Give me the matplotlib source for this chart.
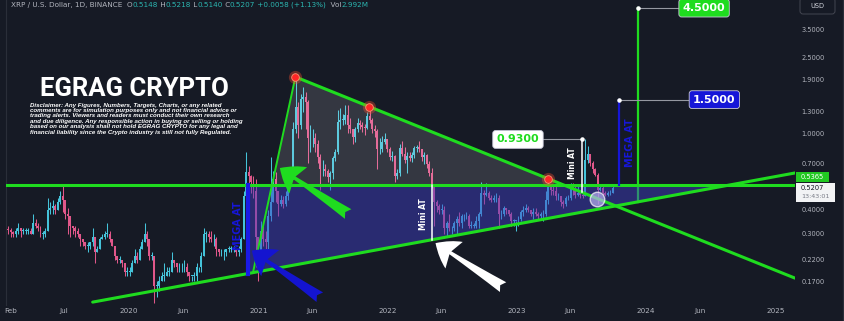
import numpy as np
import pandas as pd
import matplotlib
matplotlib.use("Agg")
import matplotlib.pyplot as plt
import matplotlib.dates as mdates
from matplotlib.patches import Polygon, Rectangle, FancyBboxPatch
from matplotlib.transforms import IdentityTransform
from matplotlib.ticker import NullLocator

# weekly XRP/USD candles (first week starts 2019-01-21)
first_week = "2019-01-21"
first_open = 0.318
closes = [
    # 2019
    0.315, 0.305, 0.30, 0.31, 0.32, 0.31, 0.31, 0.31, 0.31, 0.30,
    0.34, 0.33, 0.32, 0.30, 0.30, 0.31, 0.40, 0.41, 0.42, 0.40,
    0.44, 0.47, 0.45, 0.38, 0.37, 0.33, 0.32, 0.31, 0.30, 0.28,
    0.27, 0.26, 0.26, 0.27, 0.29, 0.24, 0.25, 0.28, 0.29, 0.30,
    0.30, 0.28, 0.26, 0.23, 0.22, 0.22, 0.21, 0.19, 0.19, 0.19,
    # 2020
    0.21, 0.23, 0.22, 0.25, 0.27, 0.30, 0.28, 0.23, 0.23, 0.16,
    0.16, 0.17, 0.18, 0.18, 0.19, 0.19, 0.22, 0.21, 0.20, 0.20,
    0.20, 0.20, 0.19, 0.18, 0.18, 0.18, 0.20, 0.20, 0.23, 0.30,
    0.30, 0.29, 0.28, 0.28, 0.25, 0.24, 0.24, 0.24, 0.25, 0.25,
    0.25, 0.25, 0.24, 0.25, 0.28, 0.47, 0.63, 0.60, 0.56, 0.50,
    0.29, 0.22,
    # 2021
    0.31, 0.28, 0.27, 0.37, 0.44, 0.58, 0.50, 0.43, 0.45, 0.43,
    0.47, 0.54, 0.58, 1.05, 1.38, 1.10, 1.52, 1.55, 1.45, 0.95,
    0.95, 0.95, 0.88, 0.75, 0.65, 0.65, 0.64, 0.59, 0.62, 0.74,
    0.80, 1.15, 1.18, 1.18, 1.25, 1.10, 1.05, 0.96, 1.05, 1.13,
    1.10, 1.08, 1.07, 1.23, 1.17, 1.05, 1.03, 0.83, 0.83, 0.90,
    0.93, 0.83,
    # 2022
    0.75, 0.76, 0.60, 0.62, 0.84, 0.78, 0.73, 0.76, 0.74, 0.77,
    0.84, 0.85, 0.83, 0.75, 0.77, 0.69, 0.62, 0.53, 0.44, 0.42,
    0.40, 0.40, 0.32, 0.34, 0.32, 0.32, 0.34, 0.36, 0.34, 0.37,
    0.37, 0.37, 0.33, 0.33, 0.33, 0.35, 0.38, 0.49, 0.48, 0.49,
    0.46, 0.45, 0.46, 0.46, 0.38, 0.38, 0.41, 0.40, 0.38, 0.35,
    0.35, 0.35,
    # 2023
    0.36, 0.39, 0.40, 0.41, 0.40, 0.38, 0.39, 0.38, 0.37, 0.38,
    0.38, 0.45, 0.54, 0.51, 0.50, 0.47, 0.47, 0.44, 0.43, 0.46,
    0.46, 0.53, 0.52, 0.48, 0.49, 0.48, 0.47, 0.73, 0.78, 0.70,
    0.65, 0.61, 0.51, 0.52, 0.49, 0.48, 0.49, 0.49, 0.52,
]
highs = [
    0.33, 0.32, 0.31, 0.32, 0.34, 0.32, 0.32, 0.32, 0.32, 0.32,
    0.38, 0.36, 0.34, 0.33, 0.31, 0.32, 0.46, 0.44, 0.45, 0.43,
    0.46, 0.50, 0.54, 0.45, 0.41, 0.36, 0.33, 0.33, 0.32, 0.30,
    0.28, 0.27, 0.27, 0.27, 0.32, 0.29, 0.26, 0.29, 0.30, 0.31,
    0.34, 0.31, 0.28, 0.26, 0.23, 0.23, 0.22, 0.21, 0.20, 0.20,
    0.22, 0.25, 0.24, 0.26, 0.28, 0.34, 0.31, 0.28, 0.24, 0.23,
    0.17, 0.18, 0.19, 0.21, 0.20, 0.20, 0.24, 0.22, 0.21, 0.21,
    0.21, 0.22, 0.21, 0.19, 0.18, 0.19, 0.21, 0.20, 0.24, 0.32,
    0.31, 0.31, 0.31, 0.30, 0.29, 0.25, 0.25, 0.25, 0.25, 0.26,
    0.26, 0.26, 0.25, 0.26, 0.29, 0.50, 0.80, 0.68, 0.61, 0.60,
    0.58, 0.29,
    0.35, 0.33, 0.31, 0.40, 0.75, 0.64, 0.63, 0.50, 0.48, 0.47,
    0.50, 0.60, 0.65, 1.15, 1.96, 1.45, 1.60, 1.75, 1.65, 1.50,
    1.10, 1.05, 1.00, 0.92, 0.78, 0.73, 0.69, 0.65, 0.64, 0.76,
    0.83, 1.33, 1.35, 1.26, 1.40, 1.41, 1.20, 1.05, 1.08, 1.20,
    1.18, 1.14, 1.12, 1.30, 1.37, 1.20, 1.10, 1.05, 0.95, 0.97,
    1.00, 0.94,
    0.85, 0.81, 0.77, 0.65, 0.88, 0.91, 0.85, 0.80, 0.80, 0.80,
    0.86, 0.87, 0.91, 0.82, 0.80, 0.78, 0.72, 0.66, 0.54, 0.45,
    0.43, 0.43, 0.42, 0.35, 0.38, 0.33, 0.35, 0.37, 0.39, 0.38,
    0.38, 0.39, 0.38, 0.35, 0.34, 0.37, 0.39, 0.56, 0.51, 0.55,
    0.50, 0.48, 0.48, 0.49, 0.48, 0.40, 0.42, 0.41, 0.40, 0.39,
    0.36, 0.35,
    0.37, 0.40, 0.42, 0.43, 0.42, 0.40, 0.41, 0.41, 0.39, 0.39,
    0.40, 0.50, 0.59, 0.54, 0.54, 0.53, 0.49, 0.47, 0.45, 0.47,
    0.48, 0.55, 0.55, 0.53, 0.53, 0.51, 0.49, 0.93, 0.86, 0.78,
    0.72, 0.66, 0.62, 0.54, 0.54, 0.50, 0.50, 0.51, 0.53,
]
lows = [
    0.30, 0.29, 0.29, 0.29, 0.30, 0.29, 0.30, 0.30, 0.30, 0.30,
    0.30, 0.32, 0.31, 0.29, 0.28, 0.29, 0.31, 0.38, 0.38, 0.38,
    0.40, 0.43, 0.39, 0.36, 0.30, 0.29, 0.30, 0.29, 0.29, 0.26,
    0.26, 0.25, 0.24, 0.25, 0.26, 0.21, 0.24, 0.25, 0.28, 0.28,
    0.29, 0.27, 0.26, 0.22, 0.21, 0.21, 0.20, 0.18, 0.18, 0.18,
    0.19, 0.21, 0.21, 0.22, 0.25, 0.27, 0.26, 0.22, 0.22, 0.13,
    0.14, 0.15, 0.17, 0.17, 0.18, 0.18, 0.19, 0.20, 0.19, 0.19,
    0.19, 0.19, 0.18, 0.17, 0.17, 0.17, 0.17, 0.19, 0.19, 0.23,
    0.27, 0.27, 0.27, 0.26, 0.23, 0.23, 0.23, 0.22, 0.23, 0.24,
    0.24, 0.24, 0.23, 0.23, 0.24, 0.28, 0.45, 0.55, 0.49, 0.46,
    0.20, 0.17,
    0.21, 0.26, 0.25, 0.25, 0.35, 0.44, 0.44, 0.37, 0.42, 0.41,
    0.42, 0.45, 0.53, 0.60, 1.00, 0.95, 1.05, 1.30, 1.05, 0.70,
    0.80, 0.85, 0.80, 0.70, 0.51, 0.60, 0.60, 0.56, 0.51, 0.58,
    0.72, 0.78, 1.05, 1.10, 1.12, 1.00, 1.00, 0.88, 0.90, 1.02,
    1.05, 1.02, 0.98, 1.05, 1.13, 1.00, 0.96, 0.65, 0.78, 0.80,
    0.88, 0.80,
    0.73, 0.72, 0.56, 0.58, 0.60, 0.76, 0.70, 0.62, 0.72, 0.71,
    0.74, 0.80, 0.80, 0.72, 0.69, 0.66, 0.60, 0.52, 0.33, 0.39,
    0.38, 0.38, 0.30, 0.29, 0.31, 0.30, 0.31, 0.30, 0.33, 0.32,
    0.35, 0.36, 0.32, 0.32, 0.32, 0.32, 0.32, 0.37, 0.43, 0.47,
    0.45, 0.44, 0.44, 0.44, 0.32, 0.36, 0.37, 0.38, 0.37, 0.33,
    0.33, 0.31,
    0.33, 0.35, 0.37, 0.39, 0.39, 0.37, 0.36, 0.37, 0.36, 0.36,
    0.35, 0.37, 0.43, 0.48, 0.48, 0.45, 0.45, 0.42, 0.41, 0.42,
    0.45, 0.45, 0.48, 0.46, 0.47, 0.46, 0.46, 0.47, 0.70, 0.68,
    0.62, 0.60, 0.43, 0.50, 0.48, 0.47, 0.47, 0.48, 0.49,
]

price_ticks = [3.5, 2.5, 1.9, 1.3, 1.0, 0.7, 0.4, 0.3, 0.22, 0.17]
time_ticks = ["2019-02-01", "2019-07-01", "2020-01-01", "2020-06-01", "2021-01-01",
              "2021-06-01", "2022-01-01", "2022-06-01", "2023-01-01", "2023-06-01",
              "2024-01-01", "2024-06-01", "2025-01-01"]
time_labels = ["Feb", "Jul", "2020", "Jun", "2021", "Jun", "2022", "Jun", "2023",
               "Jun", "2024", "Jun", "2025"]

# drawing annotations (date, price)
level = 0.5365
last_close = 0.5207
support = [("2019-09-20", 0.132), ("2025-03-01", 0.624)]
resistance = [("2021-04-15", 1.97), ("2025-02-25", 0.176)]
steep_start = "2020-12-16"
peak_days = ["2021-04-15", "2021-11-10", "2023-03-29"]
mega1_day = "2020-12-02"
mini1_day = "2022-05-07"
mini2_day, mini2_target = "2023-07-03", 0.93
mega2_day, mega2_target = "2023-10-16", 1.5
big_day, big_target = "2023-12-09", 4.5
retest_day, retest_price = "2023-08-15", 0.453

bg = "#161a25"
green = "#1fdc1f"
blue = "#1616d8"
grey_txt = "#b2b5be"
teal = "#2bb5b0"
up_col = "#45c3da"
down_col = "#e0578a"

dn = mdates.datestr2num
plt.rcParams["font.family"] = ["DejaVu Sans"]


def log_line(pts, when):
    (d0, v0), (d1, v1) = [(dn(d), v) for d, v in pts]
    t = (when - d0) / (d1 - d0)
    return np.exp(np.log(v0) + t * (np.log(v1) - np.log(v0)))


def cross_level(pts, value):
    (d0, v0), (d1, v1) = [(dn(d), v) for d, v in pts]
    t = (np.log(value) - np.log(v0)) / (np.log(v1) - np.log(v0))
    return d0 + t * (d1 - d0)


fig = plt.figure(figsize=(8.45, 3.21), dpi=100, facecolor=bg)
ax = fig.add_axes([6 / 845, 16 / 321, 789 / 845, 305 / 321])
ax.set_facecolor(bg)
ax.set_yscale("log")
ax.set_ylim(0.1275, 4.96)
ax.set_xlim(dn("2019-01-18"), dn("2025-02-25"))

# candles
weeks = pd.date_range(first_week, periods=len(closes), freq="7D")
x = mdates.date2num(weeks) + 3.5
c = np.array(closes)
o = np.concatenate([[first_open], c[:-1]])
h = np.maximum(np.array(highs), np.maximum(o, c))
lo = np.minimum(np.array(lows), np.minimum(o, c))
cols = np.where(c >= o, up_col, down_col)
ax.vlines(x, lo, h, colors=cols, lw=0.75, zorder=2)
ax.bar(x, np.maximum(np.abs(c - o), 0.002), bottom=np.minimum(o, c), width=5.6,
       color=cols, lw=0, zorder=2)

# lines
peak = (dn(resistance[0][0]), resistance[0][1])
s0 = dn(steep_start)
steep = [(steep_start, log_line(support, s0)), resistance[0]]
xl = ax.get_xlim()
for pts in [support, resistance]:
    xs = [dn(pts[0][0]), dn(pts[1][0])]
    ax.plot(xs, [pts[0][1], pts[1][1]], color=green, lw=2.2, zorder=4,
            solid_capstyle="round")
ax.plot([s0, peak[0]], [steep[0][1], peak[1]], color=green, lw=1.4, zorder=4)
ax.axhline(level, color=green, lw=2.2, zorder=4)

# grey triangle and purple zone
gx1 = cross_level(steep, level)
gx2 = cross_level(resistance, level)
ax.add_patch(Polygon([(gx1, level), peak, (gx2, level)], closed=True,
                     facecolor="white", alpha=0.13, lw=0, zorder=3))
m1 = dn(mega1_day)
px = cross_level(support, level)
ax.add_patch(Polygon([(m1, level), (px, level), (m1, log_line(support, m1))],
                     closed=True, facecolor="#4040c8", alpha=0.47, lw=0, zorder=3))

# vertical measure lines
ax.plot([m1, m1], [log_line(support, m1), level], color="#1a1ae6", lw=3, zorder=4)
d = dn(mini1_day)
ax.plot([d, d], [log_line(support, d), level], color="white", lw=1.1, zorder=4)
d = dn(mini2_day)
ax.plot([d, d], [log_line(resistance, d), mini2_target], color="white", lw=1.1, zorder=4)
d = dn(mega2_day)
ax.plot([d, d], [level, mega2_target], color=blue, lw=1.6, zorder=4)
d = dn(big_day)
ax.plot([d, d], [log_line(support, d), big_target], color=green, lw=1.6, zorder=2.5)

# target labels with connectors
for day, val, box_day, fc, tc in [(mini2_day, mini2_target, "2023-01-04", "white", green),
                                  (mega2_day, mega2_target, "2024-07-12", blue, "white"),
                                  (big_day, big_target, "2024-06-13", green, "white")]:
    ax.plot([dn(box_day), dn(day)], [val, val], color="#9598a1", lw=0.8, zorder=4)
    ax.scatter([dn(day)], [val], s=5, color="white", zorder=6)
    ax.text(dn(box_day), val, f"{val:.4f}", color=tc, fontsize=8, fontweight="bold",
            ha="center", va="center", zorder=7,
            bbox=dict(boxstyle="round,pad=0.35,rounding_size=0.25", fc=fc,
                      ec="#c8c8d8", lw=0.6))

# rotated labels
ax.text(dn("2020-11-04"), 0.329, "MEGA AT", rotation=90, color=blue, fontsize=7,
        fontweight="bold", ha="center", va="center", zorder=5)
ax.text(dn("2023-11-17"), 0.90, "MEGA AT", rotation=90, color=blue, fontsize=7,
        fontweight="bold", ha="center", va="center", zorder=5)
ax.text(dn("2022-04-11"), 0.38, "Mini AT", rotation=90, color="white", fontsize=5.5,
        fontweight="bold", ha="center", va="center", zorder=5)
ax.text(dn("2023-06-08"), 0.70, "Mini AT", rotation=90, color="white", fontsize=5.5,
        fontweight="bold", ha="center", va="center", zorder=5)

# arrows (tail -> tip)
for tail, tip, col in [(("2021-09-11", 0.380), ("2021-03-02", 0.660), green),
                       (("2021-06-23", 0.140), ("2020-12-13", 0.245), "#1414d0"),
                       (("2022-11-23", 0.158), ("2022-05-16", 0.268), "white")]:
    ax.annotate("", xy=(dn(tip[0]), tip[1]), xytext=(dn(tail[0]), tail[1]), zorder=5,
                arrowprops=dict(arrowstyle="fancy,head_length=0.42,head_width=0.6,tail_width=0.22",
                                mutation_scale=38, fc=col, ec=col, lw=0,
                                shrinkA=0, shrinkB=0))

# red touch points and retest circle
pk = np.array([dn(p) for p in peak_days])
pv = [resistance[0][1]] + [log_line(resistance, v) for v in pk[1:]]
ax.scatter(pk, pv, s=90, color="#ff5030", alpha=0.35, lw=0, zorder=6)
ax.scatter(pk, pv, s=30, color="#ff2626", edgecolor="#ff9070", lw=0.6, zorder=6)
ax.scatter([dn(retest_day)], [retest_price], s=110, facecolor="#b8b0f2", alpha=0.7,
           edgecolor="white", lw=1, zorder=6)

# axes styling
ax.yaxis.tick_right()
ax.set_yticks(price_ticks)
ax.set_yticklabels([f"{p:.4f}" for p in price_ticks])
ax.yaxis.set_minor_locator(NullLocator())
ax.set_xticks([dn(t) for t in time_ticks])
ax.set_xticklabels(time_labels)
ax.tick_params(axis="y", length=0, pad=4.5, labelsize=4.8, labelcolor=grey_txt)
ax.tick_params(axis="x", length=0, pad=2.2, labelsize=5.2, labelcolor=grey_txt)
for side in ["top", "right", "bottom"]:
    ax.spines[side].set_visible(False)
ax.spines["left"].set_color("#2a2e39")

# pixel helpers for the overlay text (image coords, y from top)
H = 321
idt = IdentityTransform()


def ftext(xp, yp, s, **kw):
    return fig.text(xp, H - yp, s, transform=idt, **kw)


# right-hand price tags
yl = H - ax.transData.transform((xl[0], level))[1]
yc = H - ax.transData.transform((xl[0], last_close))[1]
fig.add_artist(Rectangle((796, H - (yl - 3)), 33, 10, transform=idt, fc="#22c922", lw=0))
ftext(812.5, yl - 8, f"{level:.4f}", color="white", fontsize=4.8, ha="center", va="center")
fig.add_artist(Rectangle((796, H - (yc + 14)), 39, 19, transform=idt, fc="#f2f3f5", lw=0))
ftext(801, yc, f"{last_close:.4f}", color="#131722", fontsize=4.8, ha="left", va="center")
ftext(801, yc + 9, "13:43:01", color="#787b86", fontsize=4.6, ha="left", va="center")
fig.add_artist(FancyBboxPatch((800, H - 14), 35, 16, boxstyle="round,pad=0,rounding_size=3",
                              transform=idt, fc=bg, ec="#434651", lw=0.7))
ftext(817, 6, "USD", color="#d1d4dc", fontsize=4.8, ha="center", va="center")
fig.add_artist(plt.Line2D([843, 843], [0, H], transform=idt, color="#2a2e39", lw=1))

# header line
header = [("XRP / U.S. Dollar, 1D, BINANCE  ", grey_txt), ("O", grey_txt), ("0.5148", teal),
          (" H", grey_txt), ("0.5218", teal), (" L", grey_txt), ("0.5140", teal),
          (" C", grey_txt), ("0.5207", teal), (" +0.0058 (+1.13%)", teal),
          ("  Vol", grey_txt), ("2.992M", teal)]
prev = ftext(11, 5, header[0][0], color=header[0][1], fontsize=5.2, ha="left", va="center")
for s, col in header[1:]:
    prev = ax.annotate(s, xy=(1, 0), xycoords=prev, color=col, fontsize=5.2,
                       ha="left", va="bottom", annotation_clip=False)

# branding and disclaimer
ftext(40, 89, "EGRAG CRYPTO", color="white", fontsize=18.5, fontweight="bold",
      family=["Roboto", "DejaVu Sans"], ha="left", va="center")
disclaimer = ("Disclaimer: Any Figures, Numbers, Targets, Charts, or any related\n"
              "comments are for simulation purposes only and not financial advice or\n"
              "trading alerts. Viewers and readers must conduct their own research\n"
              "and due diligence. Any responsible action in buying or selling or holding\n"
              "based on our analysis shall not hold EGRAG CRYPTO for any legal and\n"
              "financial liability since the Crypto industry is still not fully Regulated.")
ftext(30.5, 102.5, disclaimer, color="white", fontsize=4.4, style="italic", fontweight="bold",
      family=["Liberation Sans", "DejaVu Sans"], ha="left", va="top", linespacing=1.12)

fig.savefig("out.png", dpi=100, facecolor=bg)
